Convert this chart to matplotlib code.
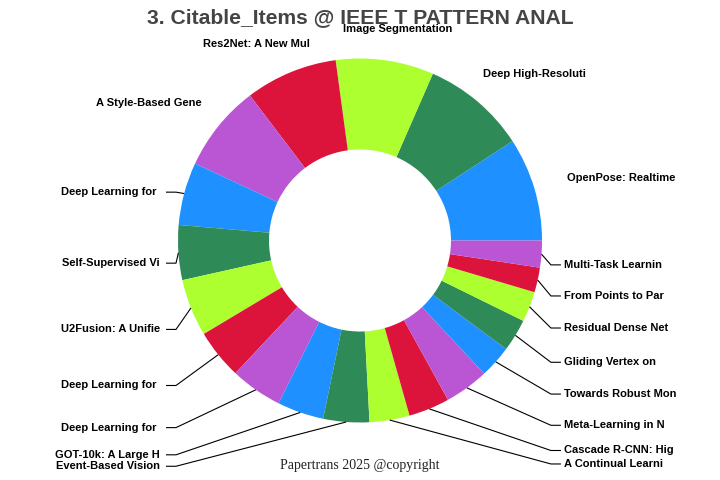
import matplotlib
matplotlib.use('Agg')
import matplotlib.pyplot as plt
import numpy as np

titles = ["OpenPose: Realtime", "Deep High-Resoluti", "Image Segmentation",
          "Res2Net: A New Mul", "A Style-Based Gene", "Deep Learning for ",
          "Self-Supervised Vi", "U2Fusion: A Unifie", "Deep Learning for ",
          "Deep Learning for ", "GOT-10k: A Large H", "Event-Based Vision",
          "A Continual Learni", "Cascade R-CNN: Hig", "Meta-Learning in N",
          "Towards Robust Mon", "Gliding Vertex on ", "Residual Dense Net",
          "From Points to Par", "Multi-Task Learnin"]
values = [331, 333, 313, 295, 278, 201, 175, 183, 159, 166,
          149, 147, 128, 131, 141, 104, 104, 97, 79, 86]
palette = ['#1E90FF', '#2E8B57', '#ADFF2F', '#DC143C', '#BA55D3']
chart_title = "3. Citable_Items @ IEEE T PATTERN ANAL"
footer = "Papertrans 2025 @copyright"

plt.rcParams['font.family'] = ['Liberation Sans', 'DejaVu Sans']

fig = plt.figure(figsize=(7.2, 4.8), dpi=100)
R_PX = 182.0
ax = fig.add_axes([(360 - 1.25 * R_PX) / 720, (239.5 - 1.25 * R_PX) / 480,
                   2.5 * R_PX / 720, 2.5 * R_PX / 480])
colors = [palette[i % len(palette)] for i in range(len(values))]
wedges, _ = ax.pie(values, colors=colors, startangle=0, counterclock=True,
                   radius=1, wedgeprops=dict(width=0.5, edgecolor='none', linewidth=0))
ax.set_xlim(-1.25, 1.25)
ax.set_ylim(-1.25, 1.25)
ax.set_aspect('equal')
ax.axis('off')

fig.canvas.draw()
renderer = fig.canvas.get_renderer()
total = float(sum(values))
px = 1.0 / R_PX

for w, lab, v in zip(wedges, titles, values):
    ang = np.deg2rad((w.theta1 + w.theta2) / 2.0)
    c, s = np.cos(ang), np.sin(ang)
    if v / total >= 0.065:
        yy = 1.2 * s - (2 * px if s > 0.9 else 0) - (3 * px if abs(c) < 0.5 else 0)
        t = ax.text(1.2 * c, yy, lab, ha='center', va='center',
                    fontsize=8, fontweight='bold', color='black', zorder=5)
        wd = t.get_window_extent(renderer).width * px
        t.set_x(1.2 * c + wd * c / 2.0)
    else:
        y = 1.2 * s - 8 * px
        if c > 0:
            xc, xe, xt, ha = 1.049, 1.104, 1.12, 'left'
        else:
            xc, xe, xt, ha = -1.011, -1.066, -1.10, 'right'
        ax.plot([c, xc, xe], [s, y, y], color='black', lw=0.8,
                solid_capstyle='butt', zorder=4, clip_on=False)
        ax.text(xt, y, lab, ha=ha, va='center', fontsize=8,
                fontweight='bold', color='black', zorder=5)

fig.text(0.5, 1 - 17.5 / 480, chart_title, ha='center', va='center',
         fontsize=15.2, fontweight='bold', color='#444444', zorder=1)
fig.text(0.5, 1 - 466 / 480, footer, ha='center', va='center',
         fontsize=10, family='Liberation Serif', color='#222222')

fig.savefig('out.png', dpi=100)
